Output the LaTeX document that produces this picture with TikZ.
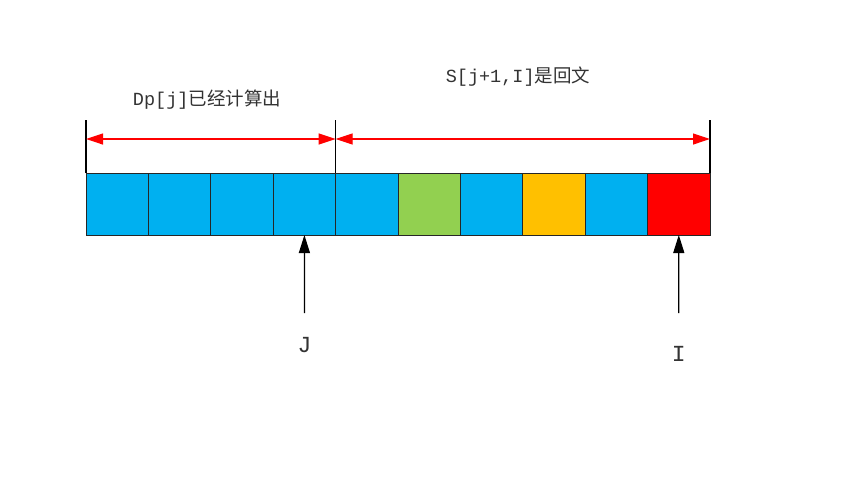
\documentclass[tikz,border=0pt]{standalone}
\usepackage{fontspec}
\setmainfont{Liberation Mono}
\newfontfamily\cjk{Noto Sans CJK SC}
\usetikzlibrary{positioning,arrows.meta}
\definecolor{cellblue}{HTML}{00B0F0}
\definecolor{cellgreen}{HTML}{92D050}
\definecolor{cellorange}{HTML}{FFC000}
\definecolor{cellred}{HTML}{FF0000}
\begin{document}
\begin{tikzpicture}[x=1pt,y=-1pt,
	cell/.style={draw=black!85,line width=0.7pt,minimum width=62.4pt,minimum height=62pt,inner sep=0pt,outer sep=0pt},
	span/.style={cellred,line width=1.2pt,{Triangle[length=17pt,width=11pt]}-{Triangle[length=17pt,width=11pt]}},
	ptr/.style={black,line width=1.2pt,-{Triangle[length=18pt,width=11pt]}},
	tick/.style={black,line width=1.3pt},
	lbl/.style={text=black!80,font=\fontsize{18.5}{22}\selectfont},
	idx/.style={text=black!80,font=\fontsize{23}{26}\selectfont}]
	\useasboundingbox (0,0) rectangle (855,496);
	% the row of cells
	\node[cell,fill=cellblue](C1) at (117.2,204){};
	\foreach \c [count=\i from 2, remember=\i as \p (initially 1)] in {cellblue,cellblue,cellblue,cellblue,cellgreen,cellblue,cellorange,cellblue,cellred}
		\node[cell,fill=\c,right=0pt of C\p](C\i){};
	% ticks and spans
	\coordinate(A) at ([yshift=34pt]C1.north west);
	\coordinate(B) at ([yshift=34pt]C4.north east);
	\coordinate(E) at ([yshift=34pt]C10.north east);
	\draw[tick] (C1.north west) -- ++(0,-53);
	\draw[tick] (C4.north east) -- ++(0,-53);
	\draw[tick] (C10.north east) -- ++(0,-53);
	\draw[span] (A) -- (B);
	\draw[span] (B) -- (E);
	\node[lbl](D) at (207,100){Dp[j]{\cjk 已经计算出}};
	\node[lbl](S) at (518,77){S[j+1,I]{\cjk 是回文}};
	% pointers
	\coordinate(JB) at (304.4,313);
	\coordinate(IB) at (678.8,313);
	\draw[ptr] (JB) -- (C4.south);
	\draw[ptr] (IB) -- (C10.south);
	\node[idx](J) at (304.4,345){J};
	\node[idx](I) at (678.8,354){I};
\end{tikzpicture}
\end{document}
